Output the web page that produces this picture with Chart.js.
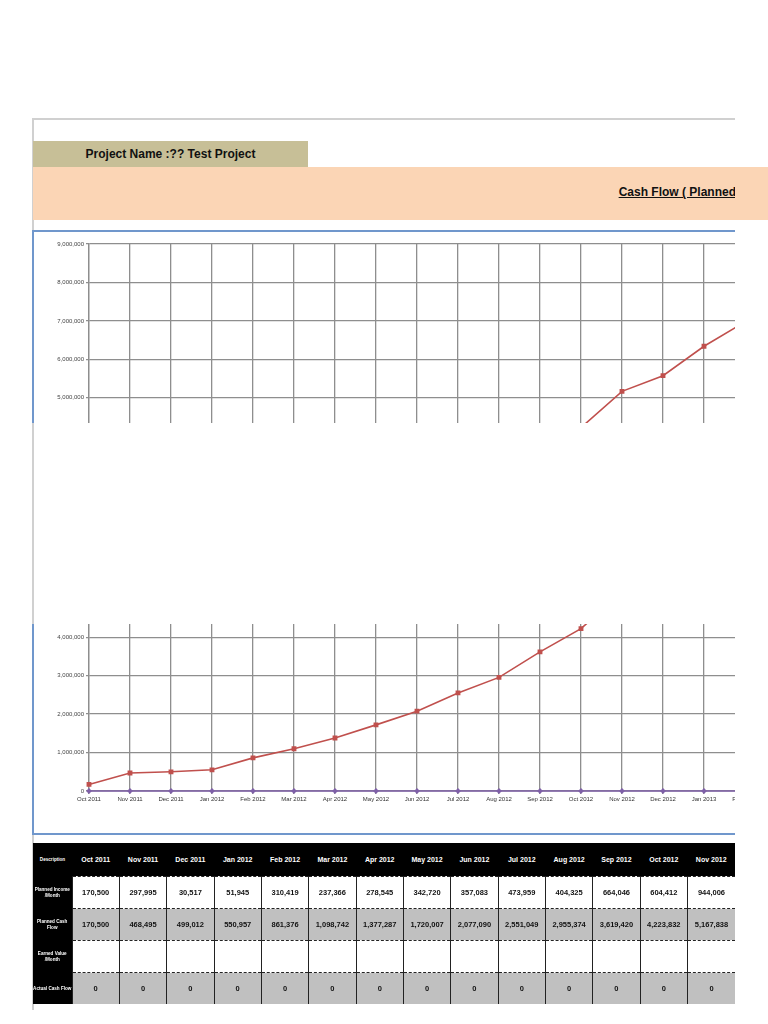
<!DOCTYPE html>
<html><head><meta charset="utf-8">
<script src="https://cdn.jsdelivr.net/npm/chart.js@4"></script>
<style>
html,body{margin:0;padding:0;background:#fff;width:768px;height:1024px;overflow:hidden;font-family:"Liberation Sans",Arial,sans-serif;}
.abs{position:absolute;}
#tbl{position:absolute;left:33px;top:843px;width:702px;border-collapse:collapse;table-layout:fixed;}
#tbl td,#tbl th{padding:0;text-align:center;font-weight:bold;overflow:hidden;white-space:nowrap;}
#tbl th{background:#000;color:#fff;font-size:7px;height:33px;}
#tbl td{font-size:7.5px;color:#111;border-left:1.5px solid #222;border-top:1.5px dashed #222;height:31px;}
#tbl td.desc{background:#000;color:#fff;font-size:4.6px;white-space:normal;line-height:5.5px;border-left:none;border-top:none;}
#tbl tr.g td{background:#c0c0c0;}
#tbl tr.w td{background:#fff;}
#tbl tr.g td.desc,#tbl tr.w td.desc{background:#000;}
</style></head><body>
<div class="abs" style="left:33px;top:118px;width:702px;height:2px;background:#d0d0d0"></div>
<div class="abs" style="left:32px;top:118px;width:2px;height:892px;background:#d0d0d0"></div>
<div class="abs" style="left:33px;top:141px;width:275px;height:26px;background:#c7bf97;font:bold 12px 'Liberation Sans Narrow','Liberation Sans',sans-serif;color:#111;display:flex;align-items:center;justify-content:center;">Project Name :?? Test Project</div>
<div class="abs" style="left:33px;top:167px;width:735px;height:53px;background:#fbd5b5"></div>
<div class="abs" style="left:33px;top:167px;width:702px;height:53px;overflow:hidden">
  <span class="abs" style="right:-1px;top:18px;font:bold 12px 'Liberation Sans Narrow','Liberation Sans',sans-serif;color:#111;text-decoration:underline;white-space:nowrap;">Cash Flow ( Planned</span>
</div>

<div class="abs" style="left:33px;top:231px;width:702px;height:192px;overflow:hidden">
  <canvas id="c1" width="742" height="402" style="position:absolute;left:0;top:0;width:742px;height:402px"></canvas>
</div>
<div class="abs" style="left:33px;top:624px;width:702px;height:210px;overflow:hidden">
  <canvas id="c2" width="742" height="402" style="position:absolute;left:0;top:-192px;width:742px;height:402px"></canvas>
</div>
<div class="abs" style="left:33px;top:230px;width:702px;height:1.5px;background:#7097cc"></div>
<div class="abs" style="left:32px;top:230px;width:1.5px;height:193px;background:#7097cc"></div>
<div class="abs" style="left:32px;top:624px;width:1.5px;height:211px;background:#7097cc"></div>
<div class="abs" style="left:33px;top:833px;width:702px;height:1.5px;background:#7097cc"></div>

<table id="tbl"></table>

<script>
const months = ['Oct 2011','Nov 2011','Dec 2011','Jan 2012','Feb 2012','Mar 2012','Apr 2012','May 2012','Jun 2012','Jul 2012','Aug 2012','Sep 2012','Oct 2012','Nov 2012','Dec 2012','Jan 2013','Feb 2013'];
const plannedIncome = [170500,297995,30517,51945,310419,237366,278545,342720,357083,473959,404325,664046,604412,944006];
const plannedCashFlow = [170500,468495,499012,550957,861376,1098742,1377287,1720007,2077090,2551049,2955374,3619420,4223832,5167838,5575000,6340000,6975000];
const actualCashFlow = [0,0,0,0,0,0,0,0,0,0,0,0,0,0,0,0,0];
const rowLabels = ['Planned Income /Month','Planned Cash Flow','Earned Value /Month','Actual Cash Flow'];
const yMin = 0, yMax = 9000000, yStep = 1000000;
const tableCols = 14;

function fmt(v){ return Number(v).toLocaleString('en-US'); }

function makeChart(id){
  new Chart(document.getElementById(id), {
    type: 'line',
    data: {
      labels: months,
      datasets: [
        {label: 'Planned Cash Flow', data: plannedCashFlow, borderColor: '#c0504d', backgroundColor: '#c0504d', borderWidth: 1.6, pointStyle: 'rect', pointRadius: 2.3, tension: 0},
        {label: 'Actual Cash Flow', data: actualCashFlow, borderColor: '#7f60a8', backgroundColor: '#7f60a8', borderWidth: 1.6, pointStyle: 'rectRot', pointRadius: 1.8, tension: 0}
      ]
    },
    options: {
      responsive: false, animation: false, clip: false,
      layout: {padding: {top: 13, right: 30, left: 0, bottom: 0}},
      plugins: {legend: {display: false}, tooltip: {enabled: false}},
      scales: {
        x: {
          grid: {color: '#8e8e8e', lineWidth: 1.3, tickLength: 3},
          border: {color: '#8e8e8e', width: 1.3},
          ticks: {font: {size: 6, family: 'Liberation Sans'}, color: '#333', autoSkip: false, maxRotation: 0, padding: 2},
          afterFit(s){ s.height = 43; }
        },
        y: {
          min: yMin, max: yMax,
          grid: {color: '#8e8e8e', lineWidth: 1.3, tickLength: 3},
          border: {color: '#8e8e8e', width: 1.3},
          ticks: {stepSize: yStep, callback: v => fmt(v), font: {size: 6, family: 'Liberation Sans'}, color: '#444', padding: 2},
          afterFit(s){ s.width = 56; }
        }
      }
    }
  });
}
makeChart('c1');
makeChart('c2');

// table
const tbl = document.getElementById('tbl');
let html = '<colgroup><col style="width:39px">';
for (let i = 0; i < tableCols; i++) html += '<col>';
html += '</colgroup><tr><th style="font-size:4.6px">Description</th>';
for (let i = 0; i < tableCols; i++) html += '<th>' + months[i] + '</th>';
html += '</tr>';
const rows = [
  plannedIncome.map(fmt),
  plannedCashFlow.slice(0, tableCols).map(fmt),
  new Array(tableCols).fill(''),
  actualCashFlow.slice(0, tableCols).map(fmt)
];
rows.forEach((r, ri) => {
  html += '<tr class="' + (ri % 2 ? 'g' : 'w') + '"><td class="desc">' + rowLabels[ri] + '</td>';
  r.forEach(v => { html += '<td>' + v + '</td>'; });
  html += '</tr>';
});
tbl.innerHTML = html;
</script>
</body></html>
